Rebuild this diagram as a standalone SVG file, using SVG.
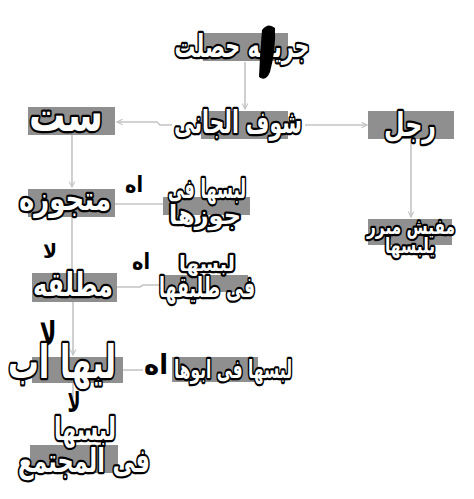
<svg xmlns="http://www.w3.org/2000/svg" width="474" height="499" viewBox="0 0 474 499">
<style>
.box{fill:#8f8f8f}
.t{font-family:"DejaVu Sans",sans-serif;font-weight:bold;fill:#fff;stroke:#000;stroke-width:4.5;paint-order:stroke;stroke-linejoin:round;text-anchor:middle;direction:rtl}
.lbl{font-family:"DejaVu Sans",sans-serif;font-weight:bold;fill:#000;text-anchor:middle;direction:rtl}
.c{fill:none;stroke:#c4c4c4;stroke-width:1.6}
</style>
<defs>
<marker id="ah" viewBox="0 0 10 10" refX="9" refY="5" markerWidth="7" markerHeight="7" orient="auto" markerUnits="userSpaceOnUse">
<path d="M1,1 L9,5 L1,9" fill="none" stroke="#c4c4c4" stroke-width="1.6"/>
</marker>
</defs>
<rect width="474" height="499" fill="#fff"/>
<g id="connectors">
<line class="c" x1="245" y1="62" x2="245" y2="109" marker-end="url(#ah)"/>
<polyline class="c" points="172,125 160,125 157,122 117,122" marker-end="url(#ah)"/>
<line class="c" x1="305" y1="125" x2="367" y2="125" marker-end="url(#ah)"/>
<line class="c" x1="72" y1="135" x2="72" y2="187" marker-end="url(#ah)"/>
<line class="c" x1="411" y1="140" x2="411" y2="217" marker-end="url(#ah)"/>
<line class="c" x1="115" y1="204" x2="163" y2="204"/>
<line class="c" x1="72" y1="217" x2="72" y2="273"/>
<polyline class="c" points="117,287 140,287 143,285 160,285"/>
<line class="c" x1="73" y1="302" x2="73" y2="355" marker-end="url(#ah)"/>
<line class="c" x1="118" y1="370" x2="143" y2="370"/>
<line class="c" x1="73" y1="383" x2="73" y2="398"/>
</g>
<g id="labels">
<text class="lbl" x="134" y="192" font-size="22" textLength="18" lengthAdjust="spacingAndGlyphs">اه</text>
<text class="lbl" x="50" y="258" font-size="20" textLength="14" lengthAdjust="spacingAndGlyphs">لا</text>
<text class="lbl" x="141" y="269" font-size="22" textLength="18" lengthAdjust="spacingAndGlyphs">اه</text>
<text class="lbl" x="48" y="346" font-size="34" textLength="17" lengthAdjust="spacingAndGlyphs">لا</text>
<text class="lbl" x="156" y="374" font-size="28" textLength="24" lengthAdjust="spacingAndGlyphs">اه</text>
<text class="lbl" x="74" y="412" font-size="28" textLength="13" lengthAdjust="spacingAndGlyphs">لا</text>
</g>
<g id="n-crime">
<rect class="box" x="203" y="33" width="85" height="28"/>
<text class="t" x="242" y="57" font-size="31" textLength="135" lengthAdjust="spacingAndGlyphs">جريمه حصلت</text>
<path d="M262,30 Q268,22 275,28 Q276,50 270,72 Q266,82 259,77 Q260,52 262,30 Z" fill="#000"/>
</g>
<g id="n-culprit">
<rect class="box" x="201" y="111" width="87" height="28"/>
<text class="t" x="238" y="133" font-size="31" textLength="128" lengthAdjust="spacingAndGlyphs">شوف الجانى</text>
</g>
<g id="n-woman">
<rect class="box" x="28" y="107" width="87" height="28"/>
<text class="t" x="66" y="131" font-size="46" textLength="74" lengthAdjust="spacingAndGlyphs">ست</text>
</g>
<g id="n-man">
<rect class="box" x="368" y="111" width="86" height="28"/>
<text class="t" x="410" y="136" font-size="33" textLength="52" lengthAdjust="spacingAndGlyphs">رجل</text>
</g>
<g id="n-nojust">
<rect class="box" x="368" y="219" width="84" height="26"/>
<text class="t" x="411" y="234" font-size="21" textLength="88" lengthAdjust="spacingAndGlyphs">مفيش مبرر</text>
<text class="t" x="410" y="253" font-size="21" textLength="50" lengthAdjust="spacingAndGlyphs">يلبسها</text>
</g>
<g id="n-married">
<rect class="box" x="28" y="189" width="87" height="28"/>
<text class="t" x="65" y="210" font-size="33" textLength="92" lengthAdjust="spacingAndGlyphs">متجوزه</text>
</g>
<g id="n-husband">
<rect class="box" x="163" y="197" width="87" height="18"/>
<text class="t" x="207" y="198" font-size="26" textLength="78" lengthAdjust="spacingAndGlyphs">لبسها فى</text>
<text class="t" x="205" y="224" font-size="26" textLength="72" lengthAdjust="spacingAndGlyphs">جوزها</text>
</g>
<g id="n-divorced">
<rect class="box" x="32" y="273" width="85" height="29"/>
<text class="t" x="73" y="296" font-size="33" textLength="80" lengthAdjust="spacingAndGlyphs">مطلقه</text>
</g>
<g id="n-ex">
<rect class="box" x="162" y="275" width="86" height="17"/>
<text class="t" x="207" y="271" font-size="21" textLength="56" lengthAdjust="spacingAndGlyphs">لبسها</text>
<text class="t" x="207" y="297" font-size="28" textLength="96" lengthAdjust="spacingAndGlyphs">فى طليقها</text>
</g>
<g id="n-father">
<rect class="box" x="32" y="357" width="91" height="26"/>
<text class="t" x="62" y="378" font-size="46" textLength="108" lengthAdjust="spacingAndGlyphs">ليها اب</text>
</g>
<g id="n-fatherblame">
<rect class="box" x="172" y="357" width="86" height="25"/>
<text class="t" x="233" y="378" font-size="25" textLength="118" lengthAdjust="spacingAndGlyphs">لبسها فى ابوها</text>
</g>
<g id="n-society">
<rect class="box" x="30" y="445" width="88" height="28"/>
<text class="t" x="85" y="440" font-size="31" textLength="62" lengthAdjust="spacingAndGlyphs">لبسها</text>
<text class="t" x="84" y="472" font-size="33" textLength="132" lengthAdjust="spacingAndGlyphs">فى المجتمع</text>
</g>
</svg>
